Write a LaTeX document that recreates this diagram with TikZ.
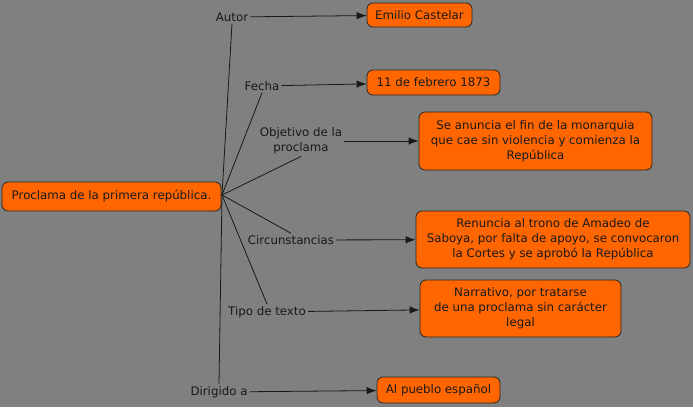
\documentclass[tikz,border=0pt]{standalone}
\usepackage{fontspec}
\setmainfont{DejaVu Sans}
\usepackage{xcolor}
\usetikzlibrary{shapes,arrows,arrows.meta,positioning}

\definecolor{fondo}{HTML}{808080}
\definecolor{naranja}{HTML}{FF6600}

\begin{document}
\begin{tikzpicture}[x=1pt, y=-1pt,
    concepto/.style={rectangle, rounded corners=6pt, draw=black!85, line width=0.8pt, fill=naranja, text=black!90, align=center, inner sep=2pt, font=\fontsize{11.8}{15}\selectfont},
    enlace/.style={text=black!90, align=center, inner sep=2pt, font=\fontsize{11.8}{15}\selectfont},
    linea/.style={draw=black!90, line width=0.8pt},
    arrow/.style={-{Latex[length=10pt,width=7.5pt]}, draw=black!90, line width=0.8pt}
]
    \fill[fondo] (0,0) rectangle (693,407);
    \useasboundingbox (0,0) rectangle (693,407);

    \node[concepto, minimum width=219pt, minimum height=29pt] (raiz) at (111.5,196.5) {Proclama de la primera república.};

    \node[enlace] (autor) at (232,17) {Autor};
    \node[enlace] (fecha) at (262,86) {Fecha};
    \node[enlace] (objetivo) at (301,141) {Objetivo de la\\proclama};
    \node[enlace] (circ) at (291,240) {Circunstancias};
    \node[enlace] (tipo) at (267,312) {Tipo de texto};
    \node[enlace] (dirigido) at (219,392) {Dirigido a};

    \node[concepto, minimum width=105pt, minimum height=24pt] (castelar) at (419.5,15) {Emilio Castelar};
    \node[concepto, minimum width=133pt, minimum height=25pt] (febrero) at (433.5,82.5) {11 de febrero 1873};
    \node[concepto, minimum width=233pt, minimum height=58pt] (monarquia) at (535.5,141) {Se anuncia el fin de la monarquia\\que cae sin violencia y comienza la\\República};
    \node[concepto, minimum width=274pt, minimum height=57pt] (renuncia) at (553,239.5) {Renuncia al trono de Amadeo de\\Saboya, por falta de apoyo, se convocaron\\la Cortes y se aprobó la República};
    \node[concepto, minimum width=201pt, minimum height=57pt] (narrativo) at (520.5,308.5) {Narrativo, por tratarse\\de una proclama sin carácter\\legal};
    \node[concepto, minimum width=123pt, minimum height=26pt] (pueblo) at (438.5,390) {Al pueblo español};

    \coordinate (nudo) at (222,195);
    \draw[linea] (nudo) -- (autor.south);
    \draw[linea] (nudo) -- (fecha.south);
    \draw[linea] (nudo) -- (objetivo.south);
    \draw[linea] (nudo) -- (circ.north);
    \draw[linea] (nudo) -- (tipo.north);
    \draw[linea] (nudo) -- (dirigido.north);

    \draw[arrow] (autor) -- (castelar);
    \draw[arrow] (fecha) -- (febrero);
    \draw[arrow] (objetivo) -- (monarquia);
    \draw[arrow] (circ) -- (renuncia);
    \draw[arrow] (tipo) -- (narrativo);
    \draw[arrow] (dirigido) -- (pueblo);
\end{tikzpicture}
\end{document}
